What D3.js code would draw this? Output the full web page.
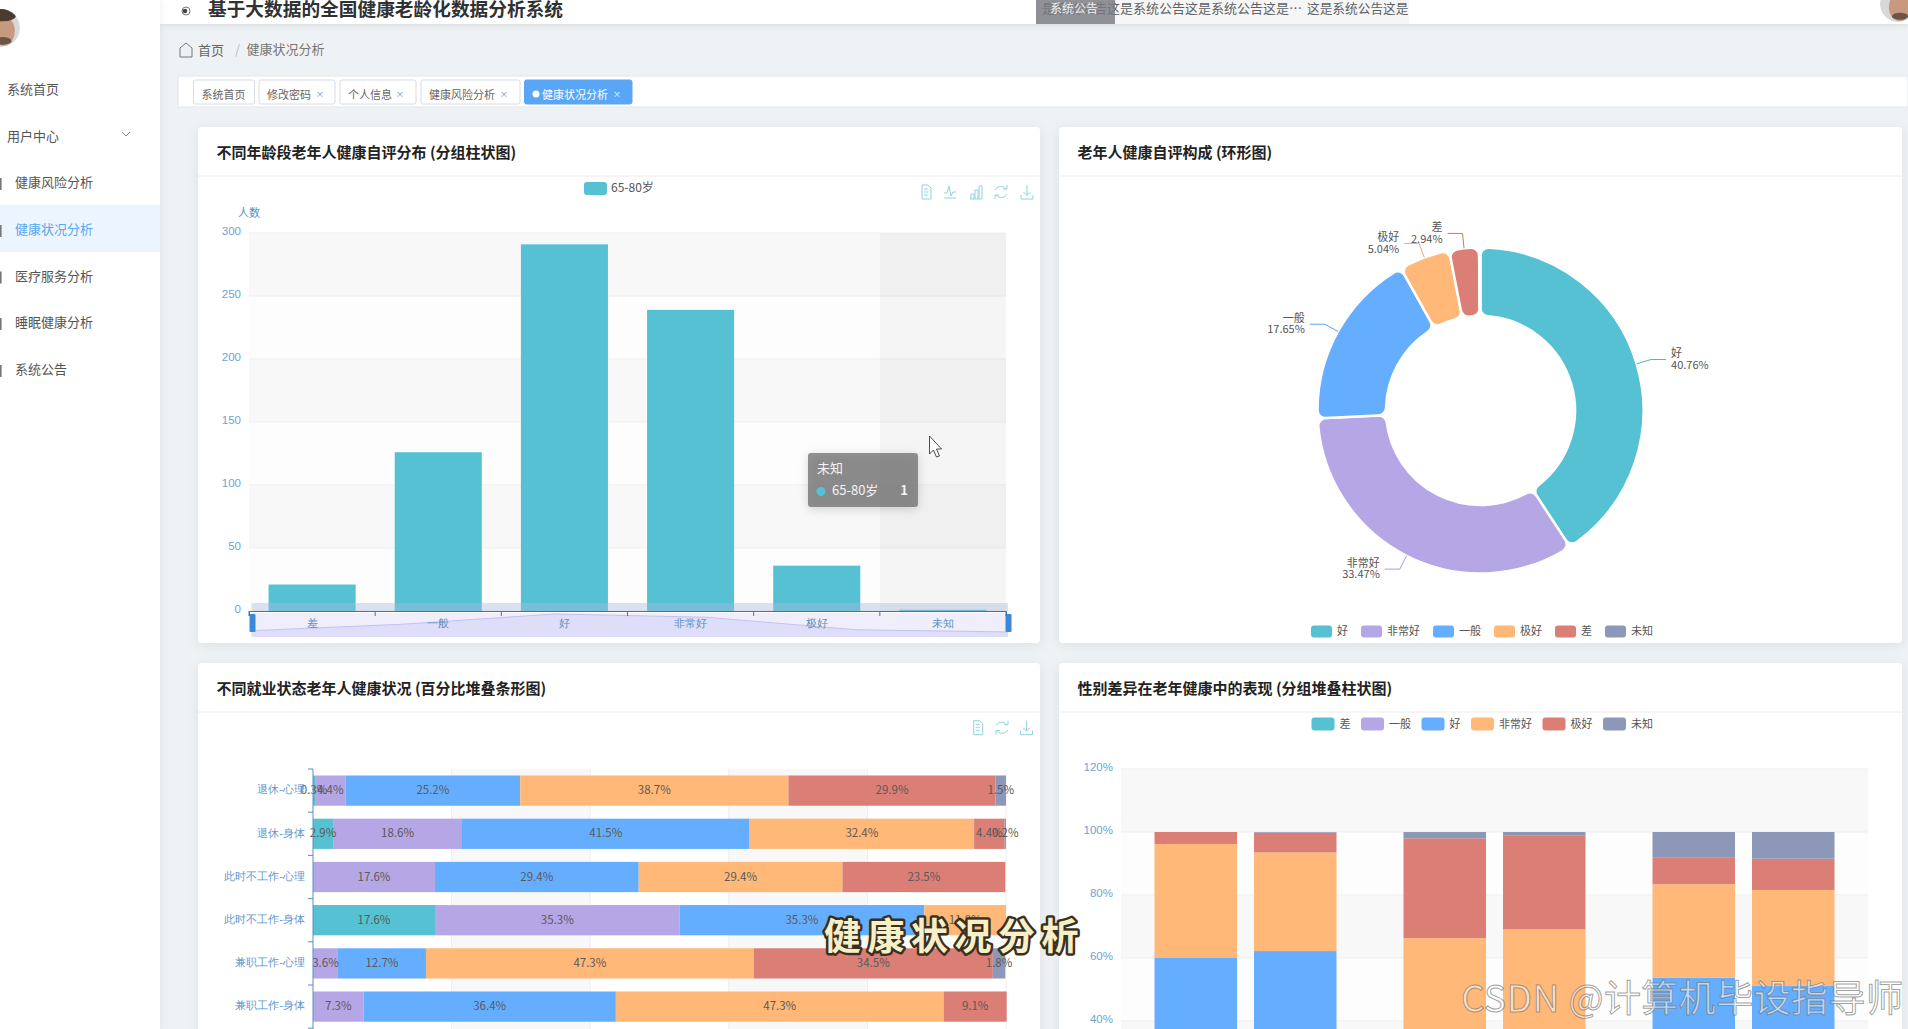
<!DOCTYPE html>
<html lang="zh">
<head>
<meta charset="utf-8">
<title>健康状况分析</title>
<script src="https://cdn.jsdelivr.net/npm/d3@7"></script>
<style>
    html, body { margin: 0; padding: 0; background: #eff2f5; overflow: hidden; }
    svg { display: block; font-family: "Noto Sans CJK SC", "Noto Sans", sans-serif; }
    text { dominant-baseline: central; transform: translateY(-1.3px); }
</style>
</head>
<body>
<svg id="page" width="1908" height="1029"></svg>
<script>
// Chart data
const healthLevels = ["差", "一般", "好", "非常好", "极好", "未知"];
const ageValues = [21, 126, 291, 239, 36, 1];
const ageTicks = [0, 50, 100, 150, 200, 250, 300];

const donutLevels = ["好", "非常好", "一般", "极好", "差", "未知"];
const donutValues = [291, 239, 126, 36, 21, 1];

const employmentLabels = ["退休-心理", "退休-身体", "此时不工作-心理", "此时不工作-身体", "兼职工作-心理", "兼职工作-身体"];
const employmentPoor = [0.3, 2.9, 0, 17.6, 0, 0];
const employmentFair = [4.4, 18.6, 17.6, 35.3, 3.6, 7.3];
const employmentGood = [25.2, 41.5, 29.4, 35.3, 12.7, 36.4];
const employmentVeryGood = [38.7, 32.4, 29.4, 11.8, 47.3, 47.3];
const employmentExcellent = [29.9, 4.4, 23.5, 0, 34.5, 9.1];
const employmentUnknown = [1.5, 0.2, 0, 0, 1.8, 0];

const genderGroups = ["组一", "组二", "组三"];
const genders = ["男", "女"];
const genderBars = ["组一男", "组一女", "组二男", "组二女", "组三男", "组三女"];
const genderPoor = [1, 1, 0, 0.5, 4, 4];
const genderFair = [12, 14, 5, 5, 15, 14];
const genderGood = [47, 47.2, 25, 24.5, 34.8, 33.1];
const genderVeryGood = [36.2, 31.3, 36.3, 39.1, 29.6, 30.5];
const genderExcellent = [3.8, 6.3, 31.7, 29.7, 8.6, 9.9];
const genderUnknown = [0, 0.2, 2, 1.2, 8, 8.5];
const genderTicks = [0, 20, 40, 60, 80, 100, 120];

const menuItems = [
    {label: "系统首页", y: 90, x: 7},
    {label: "用户中心", y: 136.5, x: 7},
    {label: "健康风险分析", y: 183, x: 15, mark: true},
    {label: "健康状况分析", y: 230, x: 15, mark: true, active: true},
    {label: "医疗服务分析", y: 276.5, x: 15, mark: true},
    {label: "睡眠健康分析", y: 323, x: 15, mark: true},
    {label: "系统公告", y: 370, x: 15, mark: true}
];
const tabs = [
    {label: "系统首页", x0: 193.5, x1: 254.5, tx: 201.5},
    {label: "修改密码", x0: 259, x1: 335, tx: 267, close: 320},
    {label: "个人信息", x0: 340, x1: 416, tx: 348, close: 400},
    {label: "健康风险分析", x0: 421, x1: 520, tx: 429, close: 504},
    {label: "健康状况分析", x0: 524.5, x1: 632, tx: 542, close: 617, active: true}
];

const levelColors = {
    "差": "#55c1d2", "一般": "#b5a6e5", "好": "#65aeff",
    "非常好": "#ffb877", "极好": "#db7e76", "未知": "#8d97b8"
};
const donutColors = {
    "好": "#55c1d2", "非常好": "#b5a6e5", "一般": "#65aeff",
    "极好": "#ffb877", "差": "#db7e76", "未知": "#8d97b8"
};
const axisBlue = "#6ea3d2";
const bandGray = "#f8f8f9";

const svg = d3.select("#page");

function addText(parent, str, x, y, size, color, anchor, weight) {
    return parent.append("text")
        .attr("x", x).attr("y", y)
        .attr("font-size", size)
        .attr("fill", color)
        .attr("text-anchor", anchor || "start")
        .attr("font-weight", weight || 400)
        .text(str);
}

function addRect(parent, x, y, w, h, fill, rx) {
    return parent.append("rect")
        .attr("x", x).attr("y", y)
        .attr("width", w).attr("height", h)
        .attr("fill", fill)
        .attr("rx", rx || 0);
}

function drawAvatar(cx, cy, r, id) {
    svg.append("clipPath").attr("id", id).append("circle").attr("cx", cx).attr("cy", cy).attr("r", r);
    const g = svg.append("g").attr("clip-path", `url(#${id})`);
    g.append("circle").attr("cx", cx).attr("cy", cy).attr("r", r).attr("fill", "#d8d8d6");
    g.append("ellipse").attr("cx", cx + 2).attr("cy", cy + 3).attr("rx", r * 0.62).attr("ry", r * 0.78).attr("fill", "#c79a80");
    g.append("ellipse").attr("cx", cx + 2).attr("cy", cy - r * 0.7).attr("rx", r * 0.7).attr("ry", r * 0.35).attr("fill", "#4a3a30");
    g.append("ellipse").attr("cx", cx + 2).attr("cy", cy + r * 0.68).attr("rx", r * 0.45).attr("ry", r * 0.2).attr("fill", "#6b5548");
}

function drawShell() {
    // header
    addRect(svg, 160, 0, 1748, 24, "#fff").style("filter", "drop-shadow(0 1px 3px rgba(0,0,0,.1))");
    svg.append("circle").attr("cx", 186).attr("cy", 11).attr("r", 4).attr("fill", "#fff").attr("stroke", "#777");
    svg.append("circle").attr("cx", 185).attr("cy", 11).attr("r", 2.3).attr("fill", "#444");
    addText(svg, "基于大数据的全国健康老龄化数据分析系统", 208, 9, 18.7, "#303133", "start", 700);

    // notice bar
    addRect(svg, 1115, 0, 294, 24, "#f6f6f6");
    addText(svg, "是系统公告这是系统公告这是系统公告这是…", 1042, 9, 13, "#606266");
    addText(svg, "这是系统公告这是", 1307, 9, 12.7, "#606266");
    addRect(svg, 1036, 0, 79, 24, "rgba(120,121,128,.82)");
    addText(svg, "系统公告", 1050, 9, 12, "#eee");
    addRect(svg, 1409, 0, 10, 24, "#fff");
    drawAvatar(1898, 4, 18, "avatarRight");

    // sidebar
    addRect(svg, 0, 0, 160, 1029, "#fff").style("filter", "drop-shadow(1px 0 3px rgba(0,0,0,.06))");
    drawAvatar(1, 28, 19, "avatarLeft");
    addRect(svg, 0, 205, 160, 47, "#ecf5ff");
    menuItems.forEach(item => {
        addText(svg, item.label, item.x, item.y, 13, item.active ? "#5aa7ee" : "#555");
        if (item.mark) addRect(svg, 0, item.y - 5, 1.6, 12, "#777");
    });
    svg.append("path").attr("d", "M122 132l4 4 4-4").attr("fill", "none").attr("stroke", "#888");

    // breadcrumb
    svg.append("path").attr("d", "M180 48l6-5 6 5v9h-12z").attr("fill", "none").attr("stroke", "#777");
    addText(svg, "首页", 198, 51, 13, "#666");
    addText(svg, "/", 235, 50, 13, "#bbb");
    addText(svg, "健康状况分析", 246.5, 49.5, 13, "#777");

    // tabs
    addRect(svg, 178, 76, 1730, 31, "#fff").attr("stroke", "#e3e5e8");
    tabs.forEach(tab => {
        addRect(svg, tab.x0, 80, tab.x1 - tab.x0, 24, tab.active ? "#5aa6f6" : "#fff", 2)
            .attr("stroke", tab.active ? "#5aa6f6" : "#d8dce5");
        addText(svg, tab.label, tab.tx, 95.5, 11, tab.active ? "#fff" : "#666");
        if (tab.close) addText(svg, "×", tab.close, 95, 8, tab.active ? "#fff" : "#888", "middle");
        if (tab.active) svg.append("circle").attr("cx", 536).attr("cy", 94).attr("r", 3.5).attr("fill", "#fff");
    });
}

function drawCard(x0, x1, y0, y1, title) {
    addRect(svg, x0, y0, x1 - x0, y1 - y0, "#fff", 4).style("filter", "drop-shadow(0 2px 6px rgba(0,0,0,.07))");
    svg.append("line").attr("x1", x0).attr("x2", x1).attr("y1", y0 + 49).attr("y2", y0 + 49).attr("stroke", "#ececee");
    addText(svg, title, x0 + 18.5, y0 + 25.5, 15, "#222", "start", 700);
}

function drawToolIcons(names, centers, y) {
    const color = "#8fd4de";
    const shapes = {
        doc: "M-4-7h6l3 3v11h-9zM-2-3h4M-2 0h4M-2 3h4",
        line: "M-6 6h12M-6 1h3l2-7 2 10 2-4h3",
        bar: "M-6 7h12M-5 7v-5h3v5M-1 7v-9h3v9M3 7v-13h3v13",
        refresh: "M5-3a6.5 6.5 0 0 0-11 1M-5 3a6.5 6.5 0 0 0 11-1M6-7v4h-4M-6 7v-4h4",
        save: "M-6 3v4h12v-4M0-7v10M-3.5 0l3.5 3.5 3.5-3.5"
    };
    names.forEach((name, i) => {
        svg.append("path")
            .attr("transform", `translate(${centers[i]},${y})`)
            .attr("d", shapes[name])
            .attr("fill", "none").attr("stroke", color).attr("stroke-width", 1);
    });
}

function drawLegend(names, colors, startX, y, swatchW, swatchH, textGap, itemGap, size) {
    let x = startX;
    names.forEach(name => {
        addRect(svg, x, y - swatchH / 2, swatchW, swatchH, colors[name], 3);
        addText(svg, name, x + swatchW + textGap, y, size, "#555");
        x += swatchW + textGap + name.length * size + itemGap;
    });
}

function drawYBands(scale, ticks, x0, x1, firstIsGray) {
    const sorted = ticks.slice().sort((a, b) => b - a);
    d3.pairs(sorted).forEach(([top, bottom], i) => {
        const gray = (i % 2 === 0) === firstIsGray;
        addRect(svg, x0, scale(top), x1 - x0, scale(bottom) - scale(top), gray ? bandGray : "#fdfdfd");
    });
    svg.append("g").selectAll("line").data(ticks).join("line")
        .attr("x1", x0).attr("x2", x1)
        .attr("y1", d => scale(d)).attr("y2", d => scale(d))
        .attr("stroke", "#efefef");
}

function styleValueAxis(g, size) {
    g.select(".domain").remove();
    g.selectAll("text").attr("fill", axisBlue).attr("font-size", size).attr("dy", -1);
}

function drawAgeChart() {
    drawCard(198, 1040, 127, 643, "不同年龄段老年人健康自评分布 (分组柱状图)");
    addRect(svg, 584, 182, 23, 13, levelColors["差"], 3);
    addText(svg, "65-80岁", 611, 187.5, 12, "#555");
    drawToolIcons(["doc", "line", "bar", "refresh", "save"], [926, 950, 976, 1001, 1027], 192);
    addText(svg, "人数", 238, 213, 11, "#5b8fc4");

    const x = d3.scaleBand().domain(healthLevels).range([249, 1006]).paddingInner(0.31).paddingOuter(0.155);
    const y = d3.scaleLinear().domain([0, 300]).range([611, 233]);
    drawYBands(y, ageTicks, 249, 1006, true);

    svg.append("g").attr("transform", "translate(241,0)")
        .call(d3.axisLeft(y).tickValues(ageTicks).tickSize(0).tickPadding(0))
        .call(styleValueAxis, 11.5);

    // hover shadow on the last category
    const step = x.step();
    addRect(svg, x("未知") - step * 0.155, 233, step, 378, "rgba(150,150,150,.08)");

    svg.append("g").selectAll("rect").data(ageValues).join("rect")
        .attr("x", (d, i) => x(healthLevels[i]))
        .attr("y", d => y(d))
        .attr("width", x.bandwidth())
        .attr("height", d => y(0) - y(d))
        .attr("fill", levelColors["差"]);

    // dataZoom slider
    const zoomX = d3.scalePoint().domain(healthLevels).range([251.5, 1008]);
    const zoomY = d3.scaleLinear().domain([0, 291]).range([632, 614]);
    addRect(svg, 251.5, 613, 756.5, 24, "#f0eefb");
    svg.append("path")
        .datum(ageValues)
        .attr("d", d3.area()
            .x((d, i) => zoomX(healthLevels[i]))
            .y0(637)
            .y1(d => zoomY(d)))
        .attr("fill", "#dedefa");
    svg.append("path")
        .datum(ageValues)
        .attr("d", d3.line()
            .x((d, i) => zoomX(healthLevels[i]))
            .y(d => zoomY(d)))
        .attr("fill", "none").attr("stroke", "#c3c2ee");
    addRect(svg, 251.5, 603, 756.5, 8, "rgba(170,185,225,.42)");
    addRect(svg, 249.5, 614, 6, 18, "#3c88d8", 1);
    addRect(svg, 1005.5, 614, 6, 18, "#3c88d8", 1);

    const axis = svg.append("g").attr("transform", "translate(0,611)")
        .call(d3.axisBottom(x).tickSizeOuter(5).tickSizeInner(0).tickPadding(6));
    axis.select(".domain").attr("stroke", "#3f74b0");
    axis.selectAll("text").attr("fill", "#5e8fc0").attr("font-size", 11).attr("dy", 0).attr("y", 13);
    axis.selectAll(".boundary").data(d3.range(7)).join("line").attr("class", "boundary")
        .attr("x1", d => 249 + d * step).attr("x2", d => 249 + d * step)
        .attr("y1", 0).attr("y2", 5).attr("stroke", "#3f74b0");

    // tooltip
    addRect(svg, 808, 453, 110, 54, "rgba(115,115,115,.78)", 3)
        .style("filter", "drop-shadow(0 2px 5px rgba(0,0,0,.2))");
    addText(svg, "未知", 817, 469, 13, "#f4f4f4");
    svg.append("circle").attr("cx", 821).attr("cy", 491.5).attr("r", 4.5).attr("fill", levelColors["差"]);
    addText(svg, "65-80岁", 832, 491, 13, "#f4f4f4");
    addText(svg, "1", 908, 491, 13, "#f4f4f4", "end", 700);

    // mouse pointer
    svg.append("path")
        .attr("transform", "translate(929.5,436)")
        .attr("d", "M0 0v18l4-4 3 7 3-1-3-7h5z")
        .attr("fill", "#fff").attr("stroke", "#222").attr("stroke-width", 0.8);
}

function drawDonutChart() {
    drawCard(1059, 1902, 127, 643, "老年人健康自评构成 (环形图)");
    const cx = 1480.5, cy = 410.5, inner = 94.5, outer = 163;
    const total = d3.sum(donutValues);
    const pie = d3.pie().sort(null)(donutValues);
    const arc = d3.arc().innerRadius(inner).outerRadius(outer).cornerRadius(8);

    const g = svg.append("g").attr("transform", `translate(${cx},${cy})`);
    g.selectAll("path").data(pie).join("path")
        .attr("d", arc)
        .attr("fill", (d, i) => donutColors[donutLevels[i]])
        .attr("stroke", "#fff").attr("stroke-width", 2.5);

    pie.forEach((d, i) => {
        const share = donutValues[i] / total * 100;
        if (share < 1) return; // the 未知 slice has no label in the picture
        const mid = (d.startAngle + d.endAngle) / 2;
        const sx = Math.sin(mid), sy = -Math.cos(mid);
        const side = sx >= 0 ? 1 : -1;
        const p0 = [outer * sx, outer * sy];
        const p1 = [(outer + 15) * sx, (outer + 15) * sy];
        const p2 = [p1[0] + side * 15, p1[1]];
        g.append("path")
            .attr("d", d3.line()([p0, p1, p2]))
            .attr("fill", "none")
            .attr("stroke", d3.color(donutColors[donutLevels[i]]).darker(0.2));
        const anchor = side > 0 ? "start" : "end";
        addText(g, donutLevels[i], p2[0] + side * 5, p2[1] - 6, 11, "#555", anchor);
        addText(g, share.toFixed(2) + "%", p2[0] + side * 5, p2[1] + 5.5, 11, "#555", anchor);
    });

    drawLegend(donutLevels, donutColors, 1311, 631.5, 21, 12, 5, 13, 11);
}

function drawEmploymentChart() {
    drawCard(198, 1040, 663, 1060, "不同就业状态老年人健康状况 (百分比堆叠条形图)");
    drawToolIcons(["doc", "refresh", "save"], [977.7, 1002, 1026.5], 727.7);

    const x = d3.scaleLinear().domain([0, 100]).range([313, 1006]);
    const y = d3.scaleBand().domain(employmentLabels).range([769, 1028.2]).paddingInner(0.3).paddingOuter(0.15);

    const gridTicks = [20, 60];
    gridTicks.forEach(t => addRect(svg, x(t), 769, x(t + 20) - x(t), 260, bandGray));
    svg.append("g").selectAll("line").data([20, 40, 60, 80, 100]).join("line")
        .attr("x1", d => x(d)).attr("x2", d => x(d))
        .attr("y1", 769).attr("y2", 1029)
        .attr("stroke", "#eeeeee");

    const seriesValues = [employmentPoor, employmentFair, employmentGood, employmentVeryGood, employmentExcellent, employmentUnknown];
    const rows = employmentLabels.map((label, i) => {
        const row = {label};
        healthLevels.forEach((level, k) => { row[level] = seriesValues[k][i]; });
        return row;
    });
    const stacked = d3.stack().keys(healthLevels)(rows);

    const layers = svg.append("g");
    stacked.forEach(layer => {
        layers.append("g").selectAll("rect").data(layer).join("rect")
            .attr("x", d => x(d[0]))
            .attr("y", d => y(d.data.label))
            .attr("width", d => x(d[1]) - x(d[0]))
            .attr("height", y.bandwidth())
            .attr("fill", levelColors[layer.key]);
    });
    stacked.forEach(layer => {
        layers.append("g").selectAll("text").data(layer.filter(d => d[1] - d[0] > 0)).join("text")
            .attr("x", d => x((d[0] + d[1]) / 2))
            .attr("y", d => y(d.data.label) + y.bandwidth() / 2)
            .attr("text-anchor", "middle")
            .attr("font-size", 11.5)
            .attr("fill", "#5a5a5a")
            .text(d => (d[1] - d[0]).toFixed(1) + "%");
    });

    const axis = svg.append("g").attr("transform", "translate(313,0)")
        .call(d3.axisLeft(y).tickSize(0).tickPadding(8));
    axis.select(".domain").remove();
    axis.selectAll("text").attr("fill", "#5f98cc").attr("font-size", 11).attr("dy", 0);
    svg.append("line").attr("x1", 313).attr("x2", 313).attr("y1", 769).attr("y2", 1029).attr("stroke", "#5b8fc4");
    const rowStep = y.step();
    svg.append("g").selectAll("line").data(d3.range(7)).join("line")
        .attr("x1", 308).attr("x2", 313)
        .attr("y1", d => 769 + d * rowStep).attr("y2", d => 769 + d * rowStep)
        .attr("stroke", "#5b8fc4");
}

function drawGenderChart() {
    drawCard(1059, 1902, 663, 1060, "性别差异在老年健康中的表现 (分组堆叠柱状图)");
    drawLegend(healthLevels, levelColors, 1311.5, 724, 23, 13, 5, 10.5, 11);

    const x0 = d3.scaleBand().domain(genderGroups).range([1121, 1868]);
    const x1 = d3.scaleBand().domain(genders).range([33.5, 215.5]).paddingInner(0.171);
    const y = d3.scaleLinear().domain([0, 120]).range([1147, 769]);
    drawYBands(y, genderTicks, 1121, 1868, true);

    svg.append("g").attr("transform", "translate(1113,0)")
        .call(d3.axisLeft(y).tickValues(genderTicks).tickSize(0).tickPadding(0).tickFormat(d => d + "%"))
        .call(styleValueAxis, 11.5);

    const seriesValues = [genderPoor, genderFair, genderGood, genderVeryGood, genderExcellent, genderUnknown];
    const rows = genderBars.map((bar, i) => {
        const row = {
            group: genderGroups[Math.floor(i / 2)],
            gender: genders[i % 2]
        };
        healthLevels.forEach((level, k) => { row[level] = seriesValues[k][i]; });
        return row;
    });
    d3.stack().keys(healthLevels)(rows).forEach(layer => {
        svg.append("g").selectAll("rect").data(layer).join("rect")
            .attr("x", d => x0(d.data.group) + x1(d.data.gender))
            .attr("y", d => y(d[1]))
            .attr("width", x1.bandwidth())
            .attr("height", d => y(d[0]) - y(d[1]))
            .attr("fill", levelColors[layer.key]);
    });
}

function drawOverlays() {
    // video caption
    svg.append("text")
        .attr("x", 824).attr("y", 935)
        .attr("font-size", 37).attr("font-weight", 700)
        .attr("letter-spacing", 6.5)
        .attr("fill", "#f7efc8").attr("stroke", "#3a3020").attr("stroke-width", 5)
        .attr("paint-order", "stroke")
        .attr("stroke-linejoin", "round")
        .text("健康状况分析");
    // watermark
    svg.append("text")
        .attr("x", 1461).attr("y", 997)
        .attr("font-size", 37).attr("textLength", 442)
        .attr("fill", "rgba(255,255,255,.55)").attr("stroke", "rgba(110,110,110,.65)").attr("stroke-width", 1)
        .text("CSDN @计算机毕设指导师");
}

drawShell();
drawAgeChart();
drawDonutChart();
drawEmploymentChart();
drawGenderChart();
drawOverlays();
</script>
</body>
</html>
